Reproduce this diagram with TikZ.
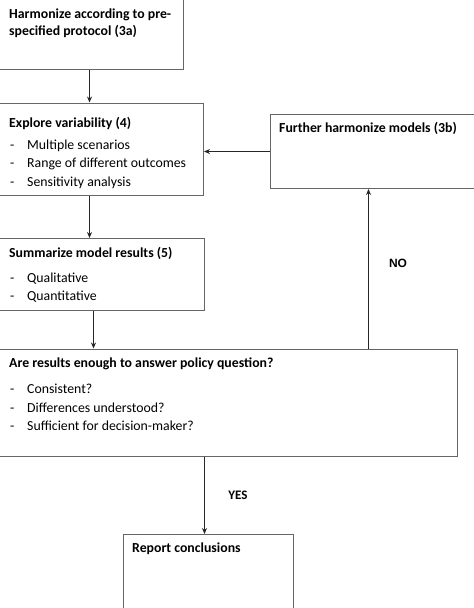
\documentclass[tikz,border=0pt]{standalone}
\usepackage{fontspec}
\setmainfont{Carlito}
\newfontfamily\arialfont{Liberation Sans}
\usetikzlibrary{positioning,arrows.meta}

\tikzset{
  box/.style={draw=black!60, line width=1pt, inner sep=0pt, anchor=north west},
  hd/.style={anchor=base west, inner sep=0pt, font=\fontsize{13.8}{16}\selectfont\bfseries},
  item/.style={anchor=base west, inner sep=0pt, font=\fontsize{13.8}{16}\selectfont},
  conn/.style={draw=black!85, line width=1.1pt, -{Stealth[length=6pt,width=5pt]}},
  lab/.style={inner sep=0pt, font=\fontsize{13}{15}\selectfont\bfseries}
}
\newcommand{\dashitem}[1]{\makebox[17pt][l]{-}#1}

\begin{document}
\begin{tikzpicture}[x=1pt,y=-1pt]
  \useasboundingbox (0,0) rectangle (474,608);
  \clip (0,0) rectangle (474,608);

  % Boxes
  \node[box, minimum width=188pt, minimum height=74pt] (b3a) at (-5,-5) {};
  \node[box, minimum width=208pt, minimum height=92pt] (b4) at (-5,102.5) {};
  \node[box, minimum width=210pt, minimum height=74pt] (b3b) at (270,114) {};
  \node[box, minimum width=209pt, minimum height=72pt] (b5) at (-5,238) {};
  \node[box, minimum width=462pt, minimum height=107pt] (bq) at (-5,348.5) {};
  \node[box, minimum width=170pt, minimum height=90pt] (brep) at (123,534) {};

  % Box texts
  \node[hd] (t3a) at (9,18) {Harmonize according to pre-};
  \node[hd] (t3a2) at (9,35.5) {specified protocol (3a)};

  \node[hd] (t4) at ([shift={(14pt,-24.5pt)}]b4.north west) {Explore variability (4)};
  \foreach \t [count=\i] in {Multiple scenarios, Range of different outcomes, Sensitivity analysis}
    \node[item] (t4i\i) at ([shift={(15pt,{-46.5pt-18.5pt*(\i-1)})}]b4.north west) {\dashitem{\t}};

  \node[hd] (t3b) at ([shift={(9pt,-18pt)}]b3b.north west) {Further harmonize models (3b)};

  \node[hd] (t5) at ([shift={(14pt,-19pt)}]b5.north west) {Summarize model results (5)};
  \foreach \t [count=\i] in {Qualitative, Quantitative}
    \node[item] (t5i\i) at ([shift={(15pt,{-44pt-18.5pt*(\i-1)})}]b5.north west) {\dashitem{\t}};

  \node[hd] (tq) at ([shift={(14pt,-19pt)}]bq.north west) {Are results enough to answer policy question?};
  \foreach \t [count=\i] in {Consistent?, Differences understood?, Sufficient for decision-maker?}
    \node[item] (tqi\i) at ([shift={(15pt,{-45pt-18.5pt*(\i-1)})}]bq.north west) {\dashitem{\t}};

  \node[hd] (trep) at ([shift={(9pt,-18pt)}]brep.north west) {Report conclusions};

  % Connectors
  \draw[conn] (b3a.south) -- (b3a.south |- b4.north);
  \draw[conn] (b4.south -| b3a.south) -- (b3a.south |- b5.north);
  \draw[conn] ([xshift=-6.5pt]b5.south) -- ([xshift=-6.5pt]b5.south |- bq.north);
  \draw[conn] (b3b.west) -- (b3b.west -| b4.east);
  \draw[conn] ([xshift=-7pt]b3b.south |- bq.north) -- ([xshift=-7pt]b3b.south);
  \draw[conn] ([xshift=-4pt]brep.north |- bq.south) -- ([xshift=-4pt]brep.north);

  % Decision labels
  \node[lab, font=\fontsize{12}{14}\selectfont\bfseries\arialfont] (no) at (398,263) {NO};
  \node[lab] (yes) at (238,495) {YES};
\end{tikzpicture}
\end{document}
